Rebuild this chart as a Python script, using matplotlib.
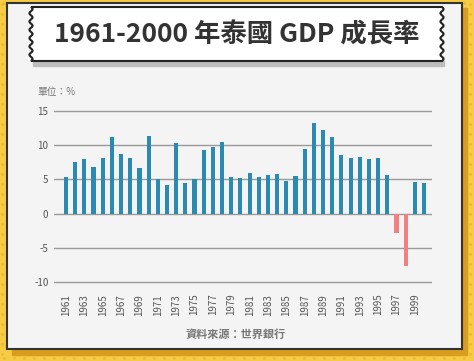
import numpy as np
import matplotlib
matplotlib.use("Agg")
import matplotlib.pyplot as plt
from matplotlib.patches import Rectangle, Polygon

plt.rcParams['font.family'] = ['Noto Sans CJK TC', 'DejaVu Sans']

# --- data ---
years = list(range(1961, 2001))
growth = [5.4, 7.6, 8.0, 6.8, 8.2, 11.2, 8.7, 8.2, 6.6, 11.4,
          5.0, 4.2, 10.3, 4.5, 5.1, 9.3, 9.8, 10.4, 5.4, 5.2,
          5.9, 5.4, 5.6, 5.8, 4.7, 5.5, 9.5, 13.3, 12.2, 11.2,
          8.6, 8.1, 8.3, 8.0, 8.2, 5.7, -2.8, -7.6, 4.6, 4.5]
y_ticks = [-10, -5, 0, 5, 10, 15]
x_labels = [str(y) for y in years[::2]]

title = "1961-2000 年泰國 GDP 成長率"
unit_text = "單位：%"
source_text = "資料來源：世界銀行"

W, H = 474, 361
BLUE = "#2b8ab2"
RED = "#f28080"

fig = plt.figure(figsize=(W / 100, H / 100), dpi=100)

# --- decoration layer in pixel coordinates ---
bg = fig.add_axes([0, 0, 1, 1])
bg.set_xlim(0, W)
bg.set_ylim(H, 0)
bg.axis("off")
bg.add_patch(Rectangle((0, 0), W, H, color="#f8cb45", zorder=0))

# dotted pattern on the yellow frame
for xx in np.arange(4, W, 10):
    bg.plot([xx, xx], [2.5, 357.5], ls="none", marker="o", ms=1.0, color="#eab93a", zorder=1)
for yy in np.arange(4, H, 10):
    bg.plot([2.5, 470], [yy, yy], ls="none", marker="o", ms=1.0, color="#eab93a", zorder=1)

# panel with shadow
bg.add_patch(Rectangle((12, 8), 455, 347, color="#d89c1e", zorder=2))
bg.add_patch(Rectangle((7, 3), 455, 346, facecolor="#f4f4f4",
                       edgecolor="#333333", lw=1.5, zorder=3))

# title banner with wavy sides
bg.add_patch(Rectangle((33, 61), 411, 5, color="#bdbdbd", zorder=4))
ys = np.linspace(7, 61, 60)
left = 31 + 1.6 * np.sin((ys - 7) / 54 * 2 * np.pi * 6.5)
right = 442 + 1.6 * np.sin((ys - 7) / 54 * 2 * np.pi * 6.5)
pts = list(zip(left, ys)) + list(zip(right[::-1], ys[::-1]))
bg.add_patch(Polygon(pts, closed=True, facecolor="white",
                     edgecolor="#222222", lw=1.5, zorder=5))
bg.text(237, 35, title, ha="center", va="center", fontsize=19,
        fontweight="bold", color="#333333", zorder=6)

bg.text(37, 92, unit_text, ha="left", va="center", fontsize=7,
        color="#777777", zorder=6)
bg.text(236, 334, source_text, ha="center", va="center", fontsize=8,
        fontweight="bold", color="#777777", zorder=6)

# --- chart ---
ax = fig.add_axes([54 / W, (H - 284.05) / H, 378 / W, 175.1 / H])
ax.patch.set_alpha(0)
x = np.arange(len(years))
colors = [BLUE if v >= 0 else RED for v in growth]
ax.bar(x, growth, width=0.45, color=colors, zorder=3)

ax.set_xlim(-1.31, 39.87)
ax.set_ylim(-10.3, 15.3)
ax.set_yticks(y_ticks)
ax.set_yticklabels([str(t) for t in y_ticks])
for t in y_ticks:
    ax.axhline(t, color="#9a9a9a", lw=1.0, zorder=1)
ax.set_xticks(x[::2])
ax.set_xticklabels(x_labels, rotation=90)
ax.tick_params(axis="x", length=0, pad=7, labelsize=7, colors="#555555")
ax.tick_params(axis="y", length=0, pad=4, labelsize=7, colors="#555555")
for s in ax.spines.values():
    s.set_visible(False)

fig.savefig("out.png", dpi=100)
